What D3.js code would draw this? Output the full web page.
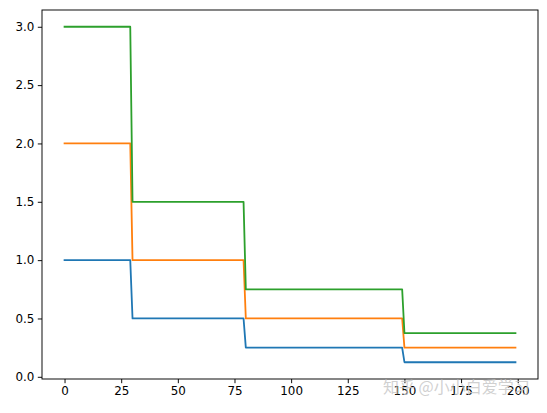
<!DOCTYPE html>
<html><head><meta charset="utf-8">
<script src="https://cdn.jsdelivr.net/npm/d3@7"></script>
<style>body{margin:0;background:#fff}svg{display:block}</style>
</head><body>
<script>
const epochs = [0, 29, 30, 79, 80, 149, 150, 199];
const lrBlue = [1, 1, 0.5, 0.5, 0.25, 0.25, 0.125, 0.125];
const lrOrange = [2, 2, 1, 1, 0.5, 0.5, 0.25, 0.25];
const lrGreen = [3, 3, 1.5, 1.5, 0.75, 0.75, 0.375, 0.375];
const xTicks = [0, 25, 50, 75, 100, 125, 150, 175, 200];
const yTicks = [0.0, 0.5, 1.0, 1.5, 2.0, 2.5, 3.0];
const colors = ["#1f77b4", "#ff7f0e", "#2ca02c"];
const series = [lrBlue, lrOrange, lrGreen];

const W = 547, H = 413;
const m = {left: 42, top: 10, right: 538, bottom: 379};
const svg = d3.select("body").append("svg").attr("width", W).attr("height", H);

const x = d3.scaleLinear().domain([-9.95, 208.95]).range([m.left, m.right]);
const y = d3.scaleLinear().domain([-0.01875, 3.14375]).range([m.bottom, m.top]);

const line = d3.line().x(d => x(d[0])).y(d => y(d[1]));
series.forEach((s, i) => {
  svg.append("path")
    .attr("d", line(epochs.map((e, j) => [e, s[j]])))
    .attr("fill", "none").attr("stroke", colors[i])
    .attr("stroke-width", 1.8).attr("stroke-linejoin", "round").attr("stroke-linecap", "square");
});

const font = "DejaVu Sans, sans-serif";
const xAxis = svg.append("g").attr("transform", `translate(0,${m.bottom})`)
  .call(d3.axisBottom(x).tickValues(xTicks).tickSize(4.2).tickPadding(3.5).tickFormat(d3.format("d")));
const yAxis = svg.append("g").attr("transform", `translate(${m.left},0)`)
  .call(d3.axisLeft(y).tickValues(yTicks).tickSize(4.2).tickPadding(3.5).tickFormat(d3.format(".1f")));
[xAxis, yAxis].forEach(g => {
  g.select(".domain").remove();
  g.selectAll(".tick line").attr("stroke", "#000").attr("stroke-width", 0.95);
  g.selectAll(".tick text").attr("font-family", font).attr("font-size", 11.9).attr("fill", "#000");
});

svg.append("rect").attr("x", m.left).attr("y", m.top)
  .attr("width", m.right - m.left).attr("height", m.bottom - m.top)
  .attr("fill", "none").attr("stroke", "#000").attr("stroke-width", 0.95);

svg.append("text").attr("x", 383).attr("y", 393)
  .attr("font-family", "Noto Sans CJK SC, sans-serif").attr("font-size", 16)
  .attr("fill", "#c8c8c8").attr("fill-opacity", 0.85)
  .text("知乎 @小小白爱学习");
</script>
</body></html>
